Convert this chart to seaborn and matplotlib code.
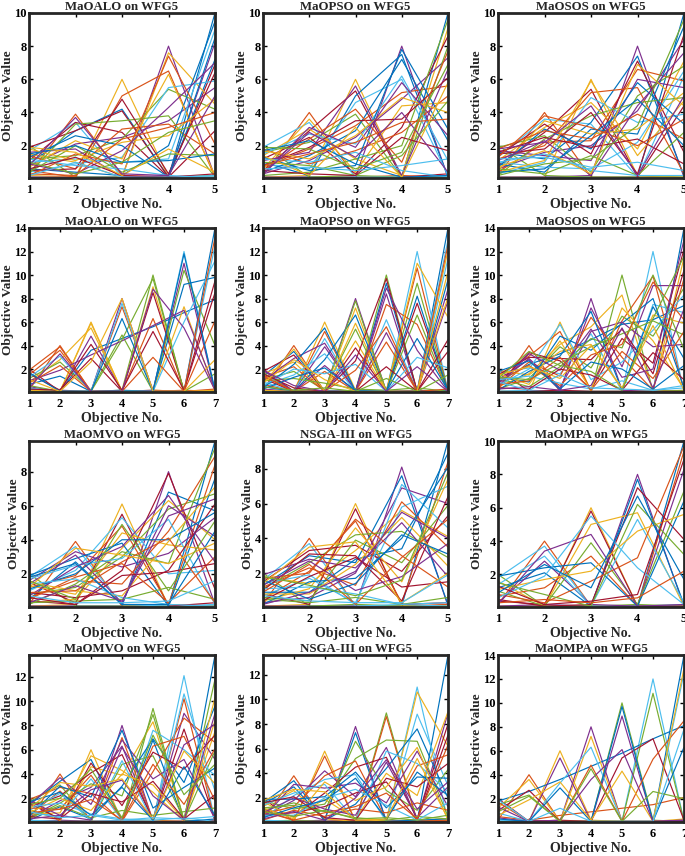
import numpy as np
import pandas as pd
import seaborn as sns
import matplotlib
matplotlib.use('Agg')
import matplotlib.pyplot as plt

# MATLAB default colour order
matlab_colors = ['#0072BD', '#D95319', '#EDB120', '#7E2F8E', '#77AC30', '#4DBEEE', '#A2142F']

titles = ['MaOALO on WFG5', 'MaOPSO on WFG5', 'MaOSOS on WFG5',
          'MaOALO on WFG5', 'MaOPSO on WFG5', 'MaOSOS on WFG5',
          'MaOMVO on WFG5', 'NSGA-III on WFG5', 'MaOMPA on WFG5',
          'MaOMVO on WFG5', 'NSGA-III on WFG5', 'MaOMPA on WFG5']

# objective values of the final populations
maoalo_5 = [
    [0.1, 0.1, 0.1, 0.1, 10.0], [0.3, 3.9, 0.2, 0.1, 0.1], [0.2, 0.1, 6.0, 0.1, 0.2],
    [0.1, 0.1, 0.1, 8.0, 0.1], [2.0, 0.1, 0.1, 0.1, 0.2], [1.7, 3.4, 0.1, 0.1, 0.1],
    [1.1, 3.4, 2.8, 0.1, 6.9], [0.9, 2.9, 4.2, 0.1, 7.2], [0.5, 0.1, 5.0, 6.5, 0.1],
    [1.5, 1.0, 0.1, 7.6, 4.5], [0.8, 2.1, 2.5, 3.5, 5.5], [1.2, 1.4, 2.4, 5.4, 4.2],
    [0.4, 0.9, 1.3, 5.5, 5.9], [1.9, 2.9, 4.1, 0.1, 2.9], [0.6, 0.4, 0.2, 2.0, 9.5],
    [1.4, 0.6, 3.0, 3.3, 1.5], [0.7, 2.3, 1.2, 6.3, 0.2], [1.6, 1.8, 0.1, 0.2, 8.2],
    [0.3, 3.3, 3.5, 3.8, 0.1], [1.0, 1.2, 1.0, 1.2, 9.0], [0.5, 0.6, 4.8, 0.3, 6.4],
    [1.3, 2.6, 2.0, 0.1, 8.5], [0.2, 1.5, 0.9, 7.4, 2.1], [1.8, 1.1, 2.2, 2.6, 4.8],
    [0.9, 0.3, 1.7, 4.3, 7.0], [0.4, 2.0, 0.4, 1.5, 1.4], [1.2, 0.8, 0.6, 0.2, 0.1],
    [0.6, 1.3, 0.2, 0.1, 0.3], [1.5, 2.0, 1.0, 1.1, 1.5], [0.3, 0.2, 2.4, 3.1, 4.0],
    [1.9, 1.6, 0.2, 1.8, 0.4], [0.8, 3.7, 0.3, 0.2, 5.0], [1.0, 0.3, 1.0, 2.8, 3.5],
    [0.2, 1.0, 0.1, 0.1, 0.2]]

maopso_5 = [
    [0.1, 0.1, 0.1, 0.1, 10.0], [0.2, 4.0, 0.1, 0.2, 0.1], [0.1, 0.2, 6.0, 0.1, 0.1],
    [0.1, 0.1, 0.1, 8.0, 0.1], [2.0, 0.1, 0.2, 0.1, 0.1], [1.9, 3.4, 0.1, 0.1, 0.2],
    [0.5, 2.9, 5.3, 0.1, 0.3], [1.0, 0.2, 5.0, 7.5, 0.1], [0.7, 1.8, 3.2, 5.2, 5.6],
    [1.4, 3.0, 1.2, 0.2, 9.1], [0.3, 1.1, 2.5, 4.8, 7.3], [1.6, 2.2, 3.9, 0.1, 8.0],
    [0.9, 0.6, 4.6, 6.0, 0.2], [1.2, 2.5, 0.3, 3.1, 8.6], [0.4, 1.4, 2.9, 7.2, 2.3],
    [1.8, 0.9, 1.7, 2.8, 5.0], [0.6, 3.6, 0.4, 4.4, 4.6], [1.1, 1.6, 5.6, 0.2, 6.6],
    [0.2, 0.4, 1.2, 2.0, 9.6], [1.5, 2.7, 2.1, 6.2, 1.1], [0.8, 1.9, 3.5, 3.6, 6.1],
    [1.3, 0.5, 0.8, 7.8, 3.0], [0.5, 2.4, 4.2, 1.0, 7.7], [1.7, 1.2, 2.6, 4.9, 4.0],
    [0.3, 3.1, 1.9, 5.8, 2.6], [1.0, 0.8, 0.2, 1.4, 4.7], [1.2, 1.0, 1.6, 0.5, 0.1],
    [0.5, 0.3, 0.2, 2.5, 1.7], [1.7, 2.3, 0.9, 0.1, 0.2], [0.8, 1.5, 2.2, 3.4, 3.6],
    [1.4, 0.2, 3.1, 0.1, 5.8], [0.3, 2.8, 1.3, 4.0, 0.4], [1.9, 1.8, 0.6, 1.6, 6.9],
    [0.6, 0.7, 0.5, 0.8, 1.2]]

maosos_5 = [
    [0.1, 0.1, 0.1, 0.1, 10.0], [0.2, 4.0, 0.1, 0.1, 0.2], [0.1, 0.1, 6.0, 0.2, 0.1],
    [0.1, 0.1, 0.2, 8.0, 0.1], [2.0, 0.2, 0.1, 0.1, 0.1], [1.3, 3.6, 3.3, 0.1, 6.2],
    [0.8, 2.8, 5.4, 0.1, 4.4], [1.6, 1.2, 3.4, 7.4, 0.2], [0.4, 2.2, 2.3, 6.6, 5.9],
    [1.1, 3.1, 4.6, 1.8, 7.1], [0.6, 1.6, 2.0, 4.1, 8.4], [1.9, 2.6, 0.4, 5.0, 6.8],
    [0.3, 1.0, 4.9, 3.4, 3.9], [1.4, 3.3, 1.5, 7.1, 1.6], [0.9, 0.4, 3.0, 2.7, 9.2],
    [1.2, 2.0, 5.2, 5.5, 0.3], [0.5, 3.5, 2.7, 3.0, 5.2], [1.7, 1.4, 1.1, 6.0, 5.5],
    [0.2, 2.4, 3.8, 4.6, 4.9], [1.0, 0.7, 0.6, 2.2, 6.5], [1.5, 1.8, 4.0, 0.3, 8.7],
    [0.7, 3.0, 1.8, 5.8, 3.3], [1.8, 2.9, 2.4, 3.9, 2.4], [0.4, 1.1, 5.9, 1.4, 4.7],
    [1.1, 2.3, 0.2, 4.4, 7.6], [0.6, 0.3, 1.4, 0.2, 2.8], [1.0, 1.5, 0.5, 0.2, 0.2],
    [1.6, 2.5, 1.9, 2.4, 0.9], [0.4, 0.6, 2.6, 4.8, 2.0], [1.3, 3.8, 3.1, 2.0, 3.6],
    [0.7, 1.7, 0.3, 6.9, 4.4], [1.8, 2.2, 4.4, 0.2, 5.0], [0.2, 0.9, 1.2, 3.2, 9.6],
    [1.2, 1.3, 0.7, 1.0, 0.5]]

maoalo_7 = [
    [0.1, 0.1, 0.1, 0.1, 0.1, 0.1, 14.0], [0.2, 4.0, 0.1, 0.1, 0.1, 0.2, 0.1],
    [0.1, 0.1, 6.0, 0.1, 0.2, 0.1, 0.1], [0.1, 0.2, 0.1, 8.0, 0.1, 0.1, 0.2],
    [0.1, 0.1, 0.1, 0.2, 10.0, 0.1, 0.1], [0.2, 0.1, 0.1, 0.1, 0.1, 12.0, 0.1],
    [2.0, 0.1, 0.1, 0.1, 0.1, 0.1, 0.2], [0.3, 0.1, 3.6, 4.6, 5.6, 6.8, 7.9],
    [1.5, 3.6, 0.1, 7.3, 0.2, 0.1, 0.3], [0.9, 2.8, 5.5, 0.1, 9.0, 0.1, 0.2],
    [0.5, 0.1, 4.8, 0.1, 0.2, 11.0, 0.1], [1.2, 2.6, 0.2, 4.9, 0.1, 10.4, 4.0],
    [0.4, 0.1, 0.1, 7.6, 0.1, 0.1, 12.5], [1.6, 0.2, 2.9, 0.1, 8.5, 0.2, 8.5],
    [0.7, 1.4, 0.1, 0.2, 0.1, 9.2, 9.8], [1.9, 3.9, 0.1, 0.1, 6.3, 0.1, 6.1],
    [0.2, 0.1, 5.9, 0.1, 0.1, 7.3, 0.1], [1.0, 1.9, 3.2, 4.4, 5.7, 7.0, 0.3],
    [0.6, 0.1, 0.1, 4.5, 9.7, 0.1, 1.6], [1.3, 3.1, 0.1, 0.1, 0.1, 6.0, 11.2],
    [0.3, 0.2, 4.1, 0.2, 5.2, 0.2, 9.5], [1.7, 0.1, 0.1, 6.3, 0.1, 11.8, 0.2],
    [0.8, 2.3, 0.1, 0.1, 3.0, 0.1, 13.2], [1.1, 0.1, 2.6, 8.0, 0.1, 0.1, 2.8],
    [0.4, 3.3, 0.1, 0.1, 8.8, 5.5, 0.2]]

maopso_7 = [
    [0.1, 0.1, 0.1, 0.1, 0.1, 0.1, 14.0], [0.2, 4.0, 0.1, 0.1, 0.1, 0.1, 0.2],
    [0.1, 0.1, 6.0, 0.2, 0.1, 0.1, 0.1], [0.1, 0.1, 0.1, 8.0, 0.1, 0.2, 0.1],
    [0.1, 0.2, 0.1, 0.1, 10.0, 0.1, 0.1], [0.1, 0.1, 0.2, 0.1, 0.1, 12.0, 0.1],
    [2.0, 0.1, 0.1, 0.1, 0.1, 0.1, 0.1], [1.4, 3.5, 0.1, 0.1, 9.3, 0.1, 0.2],
    [0.7, 0.1, 5.2, 0.1, 0.1, 10.6, 0.1], [1.6, 2.6, 0.1, 7.2, 0.1, 0.1, 12.1],
    [0.3, 0.1, 3.9, 0.1, 8.4, 0.1, 8.8], [1.1, 1.8, 0.2, 5.4, 0.1, 9.3, 0.1],
    [0.9, 0.1, 4.6, 0.1, 6.2, 0.1, 11.4], [1.8, 3.2, 0.1, 3.8, 0.1, 7.6, 0.1],
    [0.5, 0.1, 2.8, 6.6, 0.1, 0.1, 9.6], [1.3, 2.2, 0.1, 0.1, 7.5, 5.8, 0.1],
    [0.2, 0.1, 0.1, 4.4, 0.1, 11.0, 6.4], [1.0, 2.9, 4.2, 0.1, 5.1, 0.1, 7.8],
    [1.7, 0.1, 0.1, 7.8, 0.1, 6.6, 0.1], [0.6, 1.5, 3.3, 0.1, 0.1, 0.1, 13.0],
    [1.2, 0.1, 0.1, 2.7, 9.7, 0.1, 3.5], [0.4, 2.4, 5.5, 0.1, 0.1, 8.2, 0.1],
    [1.5, 0.1, 1.8, 0.1, 4.3, 0.1, 12.6], [0.8, 3.7, 0.1, 5.9, 0.1, 0.1, 8.1],
    [1.9, 0.1, 2.3, 0.1, 8.9, 3.6, 0.1], [1.0, 1.2, 0.8, 0.3, 0.2, 0.4, 0.1],
    [0.6, 2.0, 1.6, 2.4, 0.1, 3.0, 2.1], [1.6, 0.4, 0.1, 0.1, 2.2, 0.1, 4.5],
    [0.3, 1.3, 2.1, 0.2, 0.1, 4.6, 0.2], [1.4, 0.1, 0.1, 1.9, 5.6, 0.1, 0.3],
    [0.8, 2.8, 1.1, 0.1, 0.1, 0.1, 10.3], [1.9, 0.6, 0.1, 3.2, 0.1, 2.2, 0.1],
    [0.5, 0.2, 0.4, 0.1, 1.2, 0.1, 1.5]]

maosos_7 = [
    [0.1, 0.1, 0.1, 0.1, 0.1, 0.1, 14.0], [0.2, 4.0, 0.1, 0.1, 0.1, 0.1, 0.1],
    [0.1, 0.1, 6.0, 0.1, 0.1, 0.2, 0.1], [0.1, 0.1, 0.1, 8.0, 0.2, 0.1, 0.1],
    [0.1, 0.1, 0.1, 0.1, 10.0, 0.1, 0.2], [0.1, 0.2, 0.1, 0.1, 0.1, 12.0, 0.1],
    [2.0, 0.1, 0.2, 0.1, 0.1, 0.1, 0.1], [0.9, 2.4, 3.3, 4.5, 5.8, 6.2, 7.4],
    [1.4, 3.1, 5.2, 0.2, 6.1, 9.9, 0.2], [0.5, 1.6, 4.1, 5.6, 8.3, 0.1, 11.5],
    [1.1, 2.8, 0.2, 7.2, 2.2, 9.1, 9.1], [0.3, 1.2, 3.9, 2.1, 6.5, 4.8, 8.9],
    [1.7, 2.1, 1.6, 5.0, 0.1, 7.5, 6.8], [0.7, 3.4, 2.7, 0.3, 4.6, 2.5, 12.2],
    [1.3, 0.9, 4.8, 3.6, 5.9, 8.0, 0.4], [0.4, 2.6, 1.4, 6.4, 3.0, 0.2, 9.7],
    [1.9, 1.5, 3.5, 4.1, 0.3, 6.6, 5.9], [0.8, 2.9, 0.4, 5.2, 6.0, 3.9, 4.1],
    [1.2, 0.5, 2.2, 4.6, 3.8, 10.0, 3.7], [0.6, 2.0, 5.8, 1.1, 2.6, 5.3, 8.3],
    [1.5, 3.0, 2.9, 2.8, 5.4, 1.6, 10.4], [0.2, 1.8, 3.1, 6.9, 0.2, 7.3, 2.9],
    [1.0, 2.3, 0.6, 3.2, 4.1, 9.4, 6.2], [1.6, 0.7, 4.4, 0.2, 7.2, 4.4, 0.3],
    [0.5, 3.3, 1.9, 5.4, 1.3, 2.0, 13.0], [1.3, 1.1, 2.5, 3.9, 5.0, 6.1, 4.9],
    [1.1, 1.4, 0.8, 0.3, 1.0, 0.2, 0.4], [0.4, 0.3, 2.0, 1.5, 0.2, 3.4, 1.1],
    [1.8, 2.7, 0.3, 2.6, 2.0, 0.3, 2.3], [0.7, 1.0, 3.0, 0.2, 3.5, 1.2, 5.2],
    [1.5, 2.2, 1.2, 4.0, 0.4, 5.7, 0.2], [0.3, 0.5, 0.2, 0.6, 5.5, 0.4, 7.1],
    [1.2, 3.5, 2.3, 1.8, 0.2, 6.3, 11.6], [0.9, 0.2, 1.5, 0.4, 0.3, 0.2, 0.6]]

maomvo_5 = [
    [0.1, 0.1, 0.1, 0.1, 9.8], [0.2, 3.9, 0.1, 0.2, 0.1], [0.1, 0.2, 6.1, 0.1, 0.1],
    [0.1, 0.1, 0.1, 8.0, 0.2], [2.0, 0.1, 0.1, 0.1, 0.1], [1.8, 3.6, 0.2, 0.1, 0.2],
    [1.5, 0.3, 5.5, 0.1, 0.3], [0.5, 2.7, 0.2, 6.8, 5.7], [1.2, 1.9, 4.8, 0.2, 8.4],
    [0.3, 0.5, 3.5, 6.3, 4.0], [1.6, 3.3, 2.4, 3.2, 5.3], [0.8, 1.2, 3.0, 5.8, 6.7],
    [1.0, 2.2, 5.3, 2.0, 2.2], [0.4, 0.2, 2.2, 7.9, 1.1], [1.9, 2.9, 3.8, 0.1, 7.6],
    [0.6, 1.6, 1.4, 4.5, 8.9], [1.3, 0.8, 4.4, 3.7, 3.4], [1.4, 3.1, 0.3, 6.0, 4.2],
    [0.2, 1.4, 3.3, 2.6, 9.4], [1.7, 2.5, 2.9, 5.2, 0.2], [0.9, 0.6, 1.0, 2.2, 6.1],
    [1.1, 2.0, 4.0, 4.0, 5.6], [0.5, 1.8, 2.6, 0.3, 3.0], [1.5, 1.0, 0.7, 3.9, 7.1],
    [0.7, 2.4, 3.6, 6.6, 2.7], [0.3, 0.4, 0.5, 1.2, 0.5], [1.4, 1.7, 0.6, 0.2, 0.1],
    [0.6, 0.2, 1.9, 2.1, 2.6], [1.8, 2.6, 0.2, 0.2, 4.5], [0.9, 1.0, 2.7, 4.1, 0.3],
    [1.2, 3.5, 3.1, 2.6, 3.8], [0.3, 1.3, 0.4, 5.4, 6.4], [1.6, 0.5, 4.9, 1.0, 5.1],
    [0.7, 0.3, 0.3, 0.4, 1.6]]

nsga3_5 = [
    [0.1, 0.1, 0.1, 0.1, 9.6], [0.2, 4.0, 0.1, 0.1, 0.2], [0.1, 0.2, 6.0, 0.1, 0.1],
    [0.1, 0.1, 0.1, 8.1, 0.1], [2.0, 0.1, 0.2, 0.1, 0.1], [1.6, 3.7, 0.1, 0.2, 0.1],
    [0.8, 0.2, 5.7, 0.2, 0.3], [1.3, 3.0, 2.6, 7.6, 0.2], [0.5, 2.1, 5.0, 0.3, 8.4],
    [1.8, 1.4, 3.3, 5.6, 4.1], [0.3, 0.6, 2.0, 6.9, 6.0], [1.1, 2.6, 4.2, 4.4, 2.9],
    [0.7, 1.7, 0.3, 5.8, 7.0], [1.5, 3.3, 3.6, 2.1, 5.3], [0.9, 0.9, 2.8, 3.4, 8.9],
    [1.2, 2.3, 1.3, 6.1, 3.5], [0.4, 1.1, 4.6, 1.5, 7.4], [1.9, 2.8, 2.3, 4.9, 1.8],
    [0.6, 0.4, 3.9, 2.6, 5.9], [1.4, 1.9, 0.2, 7.1, 4.6], [1.0, 3.1, 3.0, 0.4, 6.4],
    [0.2, 1.5, 1.7, 4.0, 8.1], [1.7, 2.0, 5.1, 3.0, 1.2], [0.8, 0.8, 2.5, 5.2, 2.4],
    [1.3, 2.7, 1.0, 1.8, 3.7], [0.5, 0.3, 0.6, 0.2, 0.6], [1.1, 1.2, 0.8, 0.2, 0.3],
    [0.4, 1.8, 2.9, 1.2, 1.5], [1.6, 0.5, 1.4, 4.2, 3.1], [0.9, 2.5, 0.2, 2.9, 5.1],
    [1.4, 3.5, 3.8, 0.3, 2.0], [0.2, 0.9, 2.1, 5.5, 4.0], [1.8, 1.3, 0.7, 1.6, 7.8],
    [0.7, 0.4, 0.3, 0.3, 1.9]]

maompa_5 = [
    [0.1, 0.1, 0.1, 0.1, 10.0], [0.2, 4.0, 0.1, 0.1, 0.1], [0.1, 0.1, 6.0, 0.1, 0.2],
    [0.1, 0.2, 0.1, 8.0, 0.1], [2.0, 0.1, 0.1, 0.2, 0.1], [1.8, 3.7, 0.1, 0.1, 0.2],
    [0.4, 0.2, 5.8, 0.1, 0.1], [1.2, 2.1, 0.1, 7.7, 0.2], [0.7, 1.2, 3.1, 0.1, 9.4],
    [1.6, 0.1, 5.0, 5.7, 0.1], [0.3, 2.8, 0.2, 0.1, 8.3], [1.0, 0.1, 3.9, 0.2, 7.0],
    [1.4, 3.1, 0.1, 5.3, 0.3], [0.5, 0.1, 0.2, 7.2, 4.1], [1.9, 2.4, 2.7, 0.1, 6.4],
    [0.8, 0.3, 1.6, 3.0, 9.7], [1.1, 1.7, 2.2, 4.6, 5.6], [0.2, 3.4, 4.4, 0.1, 0.2],
    [1.5, 0.8, 0.1, 6.2, 3.2], [0.6, 1.9, 5.5, 2.4, 0.2], [1.3, 0.2, 0.4, 0.8, 8.9],
    [0.9, 2.6, 1.2, 6.7, 1.7], [0.3, 0.5, 0.3, 0.6, 2.2]]

maomvo_7 = [
    [0.1, 0.1, 0.1, 0.1, 0.1, 0.1, 13.8], [0.2, 4.0, 0.1, 0.1, 0.1, 0.1, 0.2],
    [0.1, 0.1, 6.0, 0.1, 0.2, 0.1, 0.1], [0.1, 0.2, 0.1, 8.0, 0.1, 0.1, 0.1],
    [0.1, 0.1, 0.1, 0.1, 9.4, 0.2, 0.1], [0.2, 0.1, 0.1, 0.2, 0.1, 12.1, 0.1],
    [2.0, 0.1, 0.1, 0.1, 0.1, 0.1, 0.2], [1.5, 3.4, 5.2, 0.1, 6.8, 0.1, 0.3],
    [0.6, 2.6, 0.2, 7.0, 0.2, 10.2, 0.1], [1.1, 0.2, 4.6, 3.9, 8.3, 0.2, 7.5],
    [0.4, 1.8, 2.9, 6.3, 0.1, 9.0, 5.2], [1.7, 3.1, 0.1, 4.8, 5.5, 0.3, 11.8],
    [0.9, 0.5, 3.6, 0.2, 7.6, 6.0, 3.9], [1.3, 2.2, 4.1, 5.6, 0.2, 7.7, 0.2],
    [0.2, 1.3, 0.3, 3.0, 6.9, 3.3, 9.6], [1.9, 2.9, 2.4, 0.1, 4.2, 8.6, 6.6],
    [0.7, 0.8, 5.5, 4.3, 2.5, 0.1, 8.4], [1.4, 3.7, 1.5, 6.8, 3.6, 5.2, 0.3],
    [0.3, 1.6, 3.2, 2.2, 8.9, 0.2, 5.9], [1.0, 2.4, 0.2, 5.1, 0.1, 10.6, 2.6],
    [1.6, 0.3, 4.9, 1.4, 5.8, 4.4, 7.2], [0.5, 3.0, 2.1, 7.6, 1.2, 2.9, 4.5],
    [1.2, 1.1, 3.9, 0.3, 6.3, 7.1, 1.8], [0.8, 2.0, 1.0, 4.0, 3.1, 0.2, 10.3],
    [1.8, 0.6, 2.7, 3.5, 0.2, 6.4, 8.1], [0.4, 1.4, 0.4, 1.0, 0.6, 0.9, 1.2],
    [1.3, 1.6, 0.7, 0.3, 0.2, 0.4, 0.1], [0.5, 0.3, 2.4, 1.7, 3.4, 0.3, 2.3],
    [1.7, 2.5, 0.6, 2.9, 0.2, 4.6, 0.6], [0.8, 1.1, 1.9, 0.2, 4.8, 1.5, 6.1],
    [1.1, 3.3, 3.0, 3.6, 0.3, 5.9, 3.2], [0.3, 0.6, 0.2, 6.2, 2.2, 0.2, 9.0],
    [1.5, 2.0, 4.4, 0.4, 7.2, 2.3, 4.8], [0.9, 0.4, 0.6, 0.2, 0.4, 0.3, 0.5]]

nsga3_7 = [
    [0.1, 0.1, 0.1, 0.1, 0.1, 0.1, 13.6], [0.2, 3.8, 0.1, 0.1, 0.1, 0.2, 0.1],
    [0.1, 0.1, 5.8, 0.1, 0.1, 0.1, 0.2], [0.1, 0.1, 0.2, 7.8, 0.1, 0.1, 0.1],
    [0.1, 0.2, 0.1, 0.1, 8.9, 0.1, 0.1], [0.2, 0.1, 0.1, 0.1, 0.1, 11.0, 0.1],
    [2.0, 0.1, 0.1, 0.2, 0.1, 0.1, 0.1], [1.6, 3.4, 0.2, 7.3, 0.1, 0.2, 0.3],
    [0.9, 0.2, 5.4, 0.1, 8.6, 0.1, 0.2], [1.3, 2.6, 0.3, 0.1, 0.2, 10.6, 6.2],
    [0.5, 1.8, 4.2, 2.1, 6.1, 0.2, 8.9], [1.8, 1.1, 1.5, 5.2, 6.7, 6.6, 0.5],
    [0.3, 2.2, 3.5, 3.9, 0.1, 8.8, 3.0], [1.1, 0.5, 2.4, 4.5, 5.3, 0.3, 8.0],
    [1.5, 2.9, 0.2, 1.5, 4.4, 7.6, 2.0], [0.7, 1.3, 3.8, 5.0, 0.2, 4.6, 5.5],
    [1.7, 0.4, 1.9, 0.3, 4.0, 2.2, 9.0], [0.4, 3.1, 2.8, 3.2, 1.6, 5.8, 1.3],
    [1.0, 1.6, 0.9, 6.6, 2.6, 1.0, 4.3], [1.4, 2.4, 3.1, 0.2, 5.8, 4.8, 2.5],
    [0.6, 0.8, 1.3, 2.4, 3.3, 0.2, 7.1], [1.9, 1.9, 2.1, 4.1, 1.2, 3.7, 3.6],
    [0.2, 1.0, 0.5, 1.1, 0.8, 1.6, 1.0], [1.2, 0.3, 3.3, 1.8, 2.9, 6.1, 0.2],
    [0.8, 2.0, 1.1, 0.6, 4.9, 0.4, 2.9], [1.2, 1.4, 0.9, 0.4, 0.2, 0.5, 0.3],
    [0.6, 0.6, 2.0, 2.7, 1.4, 0.2, 1.6], [1.6, 2.1, 0.4, 0.2, 3.6, 2.9, 4.8],
    [0.4, 1.2, 1.8, 3.6, 0.3, 4.1, 2.2], [1.0, 0.2, 0.8, 1.3, 2.4, 0.3, 6.3],
    [1.8, 2.7, 2.5, 0.2, 0.3, 5.2, 0.3], [0.3, 0.9, 0.2, 2.0, 5.1, 1.1, 3.3],
    [0.9, 0.5, 1.0, 0.3, 0.4, 0.2, 0.6]]

maompa_7 = [
    [0.1, 0.1, 0.1, 0.1, 0.1, 0.1, 14.0], [0.2, 4.0, 0.1, 0.1, 0.1, 0.1, 0.1],
    [0.1, 0.1, 6.0, 0.2, 0.1, 0.1, 0.2], [0.1, 0.2, 0.1, 8.0, 0.1, 0.1, 0.1],
    [0.1, 0.1, 0.1, 0.1, 10.0, 0.2, 0.1], [0.2, 0.1, 0.1, 0.1, 0.1, 12.0, 0.1],
    [2.0, 0.1, 0.2, 0.1, 0.1, 0.1, 0.1], [1.8, 2.6, 3.6, 4.7, 5.8, 7.0, 8.1],
    [0.5, 0.2, 0.6, 0.9, 1.2, 1.5, 2.1], [1.2, 3.6, 0.1, 7.2, 0.1, 0.1, 0.3],
    [0.4, 0.1, 5.4, 0.1, 8.9, 0.1, 0.2], [1.5, 2.3, 0.1, 0.1, 0.1, 10.8, 0.1],
    [0.8, 0.1, 3.3, 6.3, 0.1, 0.1, 12.5], [1.0, 2.7, 0.1, 0.1, 5.4, 7.0, 0.2],
    [0.3, 0.1, 2.9, 0.1, 9.7, 0.1, 6.3], [1.7, 0.1, 0.1, 4.8, 0.1, 5.3, 8.5],
    [0.6, 1.9, 3.4, 0.2, 4.3, 0.1, 12.9], [1.3, 0.1, 0.2, 3.6, 6.1, 0.1, 0.2],
    [0.9, 2.2, 0.1, 4.5, 0.1, 2.6, 2.0], [1.9, 0.1, 1.2, 0.1, 0.1, 0.1, 7.8]]

panels = [maoalo_5, maopso_5, maosos_5,
          maoalo_7, maopso_7, maosos_7,
          maomvo_5, nsga3_5, maompa_5,
          maomvo_7, nsga3_7, maompa_7]

sns.set_style('ticks')
plt.rcParams['font.family'] = ['Liberation Serif', 'DejaVu Serif']
plt.rcParams['font.weight'] = 'bold'

W, H = 685, 856
fig = plt.figure(figsize=(W / 100, H / 100), dpi=100)

col_px = [(29, 215), (263, 448), (498, 684)]
row_px = [(13, 178), (228, 392), (441, 607), (655, 822)]

for k, (title, sols) in enumerate(zip(titles, panels)):
    r, c = divmod(k, 3)
    x0, x1 = col_px[c]
    y0, y1 = row_px[r]
    ax = fig.add_axes([x0 / W, 1 - y1 / H, (x1 - x0) / W, (y1 - y0) / H])

    vals = np.array(sols)
    n_sol, n_obj = vals.shape
    df = pd.DataFrame({
        'obj': np.tile(np.arange(1, n_obj + 1), n_sol),
        'val': vals.ravel(),
        'sol': np.repeat([f's{i}' for i in range(n_sol)], n_obj),
    })
    pal = {f's{i}': matlab_colors[i % 7] for i in range(n_sol)}
    sns.lineplot(data=df, x='obj', y='val', hue='sol', palette=pal,
                 legend=False, linewidth=0.85, estimator=None, sort=False, ax=ax)

    ax.set_xlim(1, n_obj)
    ax.set_ylim(vals.min() - 0.05, vals.max())
    ax.set_xticks(range(1, n_obj + 1))
    ax.set_yticks(np.arange(2, vals.max() + 0.01, 2))
    ax.tick_params(direction='in', length=3, width=1, top=True, right=True,
                   labelsize=9, colors='black')
    ax.tick_params(axis='x', pad=4)
    ax.tick_params(axis='y', pad=1.5)
    for lab in ax.get_xticklabels() + ax.get_yticklabels():
        lab.set_fontweight('bold')
    for sp in ax.spines.values():
        sp.set_linewidth(2)
        sp.set_color('#262626')
        sp.set_visible(True)
    ax.set_title(title, fontsize=9.3, fontweight='bold', pad=2)
    ax.set_xlabel('Objective No.', fontsize=10, fontweight='bold', labelpad=1.5)
    ax.set_ylabel('Objective Value', fontsize=9.6, fontweight='bold', labelpad=0.5)

fig.savefig('out.png', dpi=100)
